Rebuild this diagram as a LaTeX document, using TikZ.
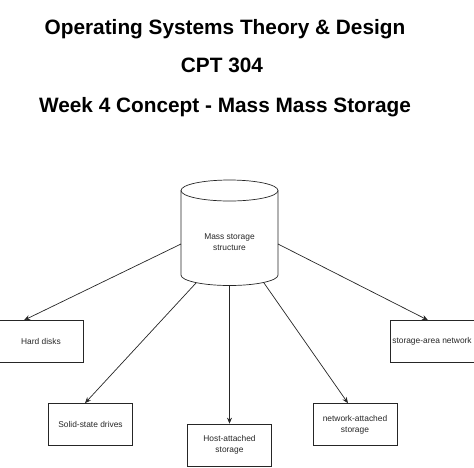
\documentclass[tikz,border=0pt]{standalone}
\usepackage{fontspec}
\setmainfont{Liberation Sans}
\usetikzlibrary{arrows.meta,calc}
\begin{document}
\begin{tikzpicture}[x=1pt,y=-1pt,
  box/.style={draw=black!85, line width=0.7pt, minimum width=84pt, minimum height=42pt, inner sep=1pt, align=center, font=\fontsize{8.4}{11}\selectfont, text=black!85},
  cyltext/.style={align=center, font=\fontsize{8.4}{11}\selectfont, text=black!85},
  cylline/.style={draw=black!85, line width=0.7pt},
  title/.style={font=\fontsize{20.8}{24}\selectfont\bfseries, anchor=base},
  link/.style={draw=black!85, line width=0.7pt, -{Stealth[length=6pt,width=5pt]}}]
\useasboundingbox (0,0) rectangle (474,467);
\clip (0,0) rectangle (474,467);
% titles
\node[title] (t1) at (225,34) {Operating Systems Theory \& Design};
\node[title] (t2) at (222,72) {CPT 304};
\node[title] (t3) at (225,112) {Week 4 Concept - Mass Mass Storage};
% cylinder
\draw[cylline] (181,190.5) -- (181,275) arc[start angle=180,end angle=360,x radius=48.5pt,y radius=10.5pt] -- (278,190.5);
\draw[cylline] (229.5,190.5) ellipse[x radius=48.5pt, y radius=10.5pt];
\node[cyltext] (cyl) at (229.5,242.5) {Mass storage\\structure};
\coordinate (c1) at (181,244);
\coordinate (c2) at (196,283);
\coordinate (c3) at (229.5,285.5);
\coordinate (c4) at (264,283);
\coordinate (c5) at (278,244);
% boxes
\node[box] (hd) at (41,341.5) {Hard disks};
\node[box] (ssd) at (90.5,424.5) {Solid-state drives};
\node[box] (has) at (229.5,445) {Host-attached\\storage};
\node[box] (nas) at (355,424.5) {network-attached\\storage};
\node[box] (san) at (432,341.5) {storage-area network};
% connectors
\draw[link] (c1) -- ($(hd.north west)!0.3!(hd.north east)$);
\draw[link] (c2) -- ($(ssd.north west)!0.435!(ssd.north east)$);
\draw[link] (c3) -- (has.north);
\draw[link] (c4) -- ($(nas.north west)!0.417!(nas.north east)$);
\draw[link] (c5) -- ($(san.north west)!0.452!(san.north east)$);
\end{tikzpicture}
\end{document}
